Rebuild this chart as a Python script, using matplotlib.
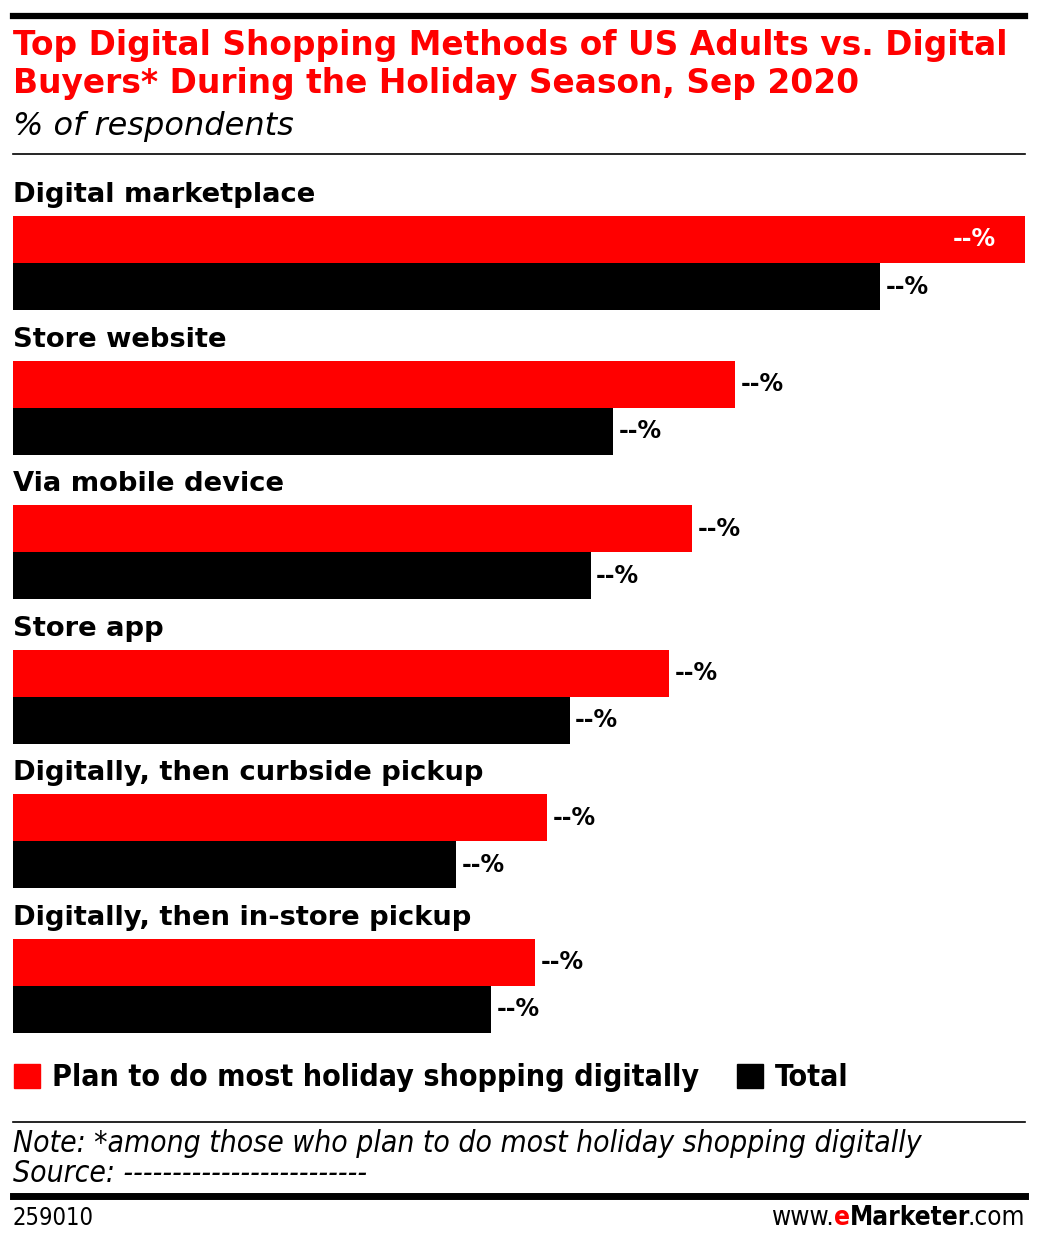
import matplotlib.pyplot as plt
from matplotlib.patches import Patch
from matplotlib.lines import Line2D

# data
categories = ["Digital marketplace", "Store website", "Via mobile device",
              "Store app", "Digitally, then curbside pickup",
              "Digitally, then in-store pickup"]
plan_digital = [58.0, 41.4, 38.9, 37.6, 30.6, 29.9]
total = [49.7, 34.4, 33.1, 31.9, 25.4, 27.4]
value_labels = ["--%"] * len(categories)
series_names = ["Plan to do most holiday shopping digitally", "Total"]

RED = "#ff0000"
BLACK = "#000000"
W, H = 1038, 1245
COND = "condensed"

fig = plt.figure(figsize=(W / 100, H / 100), dpi=100)
fig.patch.set_facecolor("white")


def fx(px):
    return px / W


def fy(px):
    return 1 - px / H


# rules
fig.add_artist(Line2D([fx(13), fx(1025)], [fy(15.5), fy(15.5)], color=BLACK, lw=4.5))
fig.add_artist(Line2D([fx(13), fx(1025)], [fy(154), fy(154)], color=BLACK, lw=1.2))
fig.add_artist(Line2D([fx(13), fx(1025)], [fy(1122), fy(1122)], color=BLACK, lw=1.2))
fig.add_artist(Line2D([fx(13), fx(1025)], [fy(1196), fy(1196)], color=BLACK, lw=5))

# title
fig.text(fx(13), fy(45), "Top Digital Shopping Methods of US Adults vs. Digital",
         color=RED, fontsize=23.7, fontweight="bold", va="center", ha="left")
fig.text(fx(13), fy(83), "Buyers* During the Holiday Season, Sep 2020",
         color=RED, fontsize=23.7, fontweight="bold", va="center", ha="left")
fig.text(fx(13), fy(126), "% of respondents", color=BLACK, fontsize=23,
         style="italic", va="center", ha="left")

# bars
top_px, bot_px, step = 170, 1040, 144.6
ax = fig.add_axes([fx(13), fy(bot_px), fx(1025) - fx(13), (bot_px - top_px) / H])
y0 = -(195 - top_px) / step
y1 = (bot_px - 195) / step
ax.set_ylim(y1, y0)
xmax = max(plan_digital)
ax.set_xlim(0, xmax)
ax.axis("off")

bh = 47 / step
off_red = (239.5 - 195) / step
off_blk = (286.5 - 195) / step
for i, cat in enumerate(categories):
    ax.text(0, i, cat, fontsize=19.7, fontweight="bold", va="center", ha="left")
    ax.barh(i + off_red, plan_digital[i], height=bh, color=RED)
    ax.barh(i + off_blk, total[i], height=bh, color=BLACK)
    if plan_digital[i] >= xmax * 0.95:
        ax.annotate(value_labels[i], (plan_digital[i], i + off_red), xytext=(-21, 0),
                    textcoords="offset points", ha="right", va="center",
                    color="white", fontsize=17, fontweight="bold")
    else:
        ax.annotate(value_labels[i], (plan_digital[i], i + off_red), xytext=(4, 0),
                    textcoords="offset points", ha="left", va="center",
                    color=BLACK, fontsize=17, fontweight="bold")
    ax.annotate(value_labels[i], (total[i], i + off_blk), xytext=(4, 0),
                textcoords="offset points", ha="left", va="center",
                color=BLACK, fontsize=17, fontweight="bold")

# legend
handles = [Patch(color=RED), Patch(color=BLACK)]
leg = fig.legend(handles, series_names, loc="center left",
                 bbox_to_anchor=(fx(-13), fy(1078)), ncol=2, frameon=False,
                 handlelength=0.85, handleheight=0.85, handletextpad=0.4,
                 columnspacing=1.25,
                 prop={"weight": "bold", "size": 21.8, "stretch": COND})

# notes
fig.text(fx(13), fy(1143), "Note: *among those who plan to do most holiday shopping digitally",
         fontsize=21.5, style="italic", stretch=COND, va="center")
fig.text(fx(13), fy(1173), "Source: -------------------------",
         fontsize=21.5, style="italic", stretch=COND, va="center")

# footer
fig.text(fx(13), fy(1218), "259010", fontsize=17, stretch=COND, va="center")
t_com = fig.text(fx(1025), fy(1218), ".com", fontsize=18.8, stretch=COND,
                 va="center", ha="right")
t_mk = ax.annotate("Marketer", xy=(0, 0), xycoords=t_com, xytext=(2, 0),
                   textcoords="offset points", ha="right", va="bottom",
                   fontsize=18.8, stretch=COND, fontweight="bold")
t_e = ax.annotate("e", xy=(0, 0), xycoords=t_mk, ha="right", va="bottom",
                  fontsize=18.8, stretch=COND, fontweight="bold", color=RED)
ax.annotate("www.", xy=(0, 0), xycoords=t_e, ha="right", va="bottom",
            fontsize=18.8, stretch=COND)

fig.savefig("out.png", dpi=100)
